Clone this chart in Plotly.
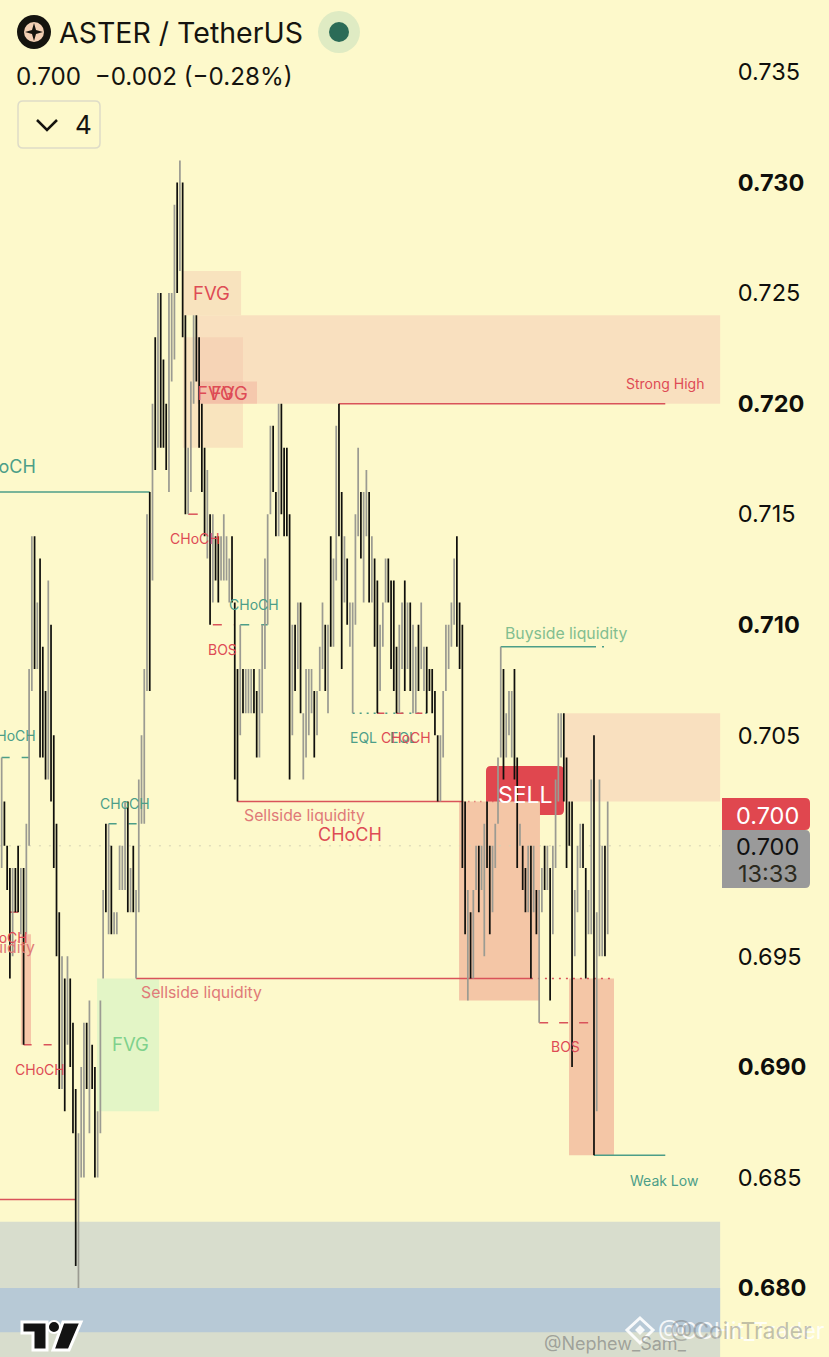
import plotly.graph_objects as go

# ---- data: candles, prices in 1/1000 USDT, x = bar number ----
bar_top = [704,702,700,699,699,699,700,699,699,701,708,714,714,711,713,709,707,712,710,705,
 701,697,695,694,695,694,692,689,687,690,692,692,693,691,690,688,693,698,701,701,
 700,697,697,700,700,702,702,699,700,698,703,705,708,715,716,720,723,725,725,722,
 720,725,725,729,730,731,730,724,718,721,724,724,723,720,718,717,715,715,714,714,
 714,715,714,713,714,711,708,710,708,708,708,708,708,707,708,710,713,715,719,719,
 716,720,720,718,718,715,710,710,711,711,706,708,708,708,707,707,709,711,710,710,
 714,713,719,720,716,714,713,711,711,715,718,716,716,717,716,714,713,712,710,711,
 713,713,712,712,709,710,711,712,711,711,710,709,710,711,709,709,708,708,707,705,
 705,707,710,710,711,713,714,711,710,702,698,697,698,700,700,700,701,702,700,700,
 701,704,709,708,706,707,707,708,704,701,700,699,700,700,700,698,698,699,700,700,
 699,700,703,706,706,706,704,702,702,698,700,701,701,699,698,703,705,697,703,700,700,702]
bar_bottom = [699,700,698,694,695,697,697,696,691,696,700,707,708,708,704,704,703,703,702,699,
 695,689,689,688,691,690,687,681,680,685,685,689,687,689,685,685,687,694,697,696,
 696,696,696,698,698,698,697,697,697,694,697,701,701,707,707,712,717,718,718,718,
 717,716,721,722,725,726,723,715,715,716,720,721,718,716,714,713,710,711,712,711,
 712,712,712,711,711,703,702,705,706,706,706,706,706,704,704,706,708,710,715,716,
 714,714,715,714,714,703,705,707,708,706,703,704,705,706,704,705,707,708,707,706,
 709,709,712,714,708,711,710,709,706,710,714,713,711,714,711,711,709,706,707,709,
 711,711,708,707,706,706,708,707,708,707,706,706,707,708,707,706,707,706,705,702,
 702,704,707,708,709,710,709,708,699,696,693,694,694,698,697,698,695,699,696,697,
 699,701,704,703,704,705,704,703,699,700,698,697,697,694,697,696,692,697,698,698,
 693,696,699,702,704,702,699,700,690,695,697,699,699,694,696,696,686,688,695,695,695,696]
bar_tone = list("gkkkgkkgkg" "ggkgkkkgkk" "kkgkgkkkgg" "gkgkkgggkg" "kgggggkgkg"
                "ggggkgkgkk" "kgggkgkkgg" "gkkkkgkgkk" "ggggkkkgkg" "ggkkgggggk"
                "kgkkkkgkgk" "ggggkgggkg" "kggkkgkggg" "gkggkgkkgg" "gkkkkggkgk"
                "ggkggkkkkk" "ggggggkkkk" "gkggkggkkg" "gggkgggkkg" "kkgkgkggkg"
                "kggggkkkkg" "ggkkggkggg" "kg")

zone_x0 = [66.1, 71.2, 66.1, 71.6, 7.0, 34.8, 166.8, 205.4, 206.9, -1, -1]
zone_x1 = [87.3, 262, 88.0, 93.1, 10.7, 57.4, 196.3, 262, 223.3, 262, 262]
zone_top = [726, 724, 723, 721, 696, 694, 702, 706, 694, 683, 680]
zone_bottom = [724, 720, 718, 720, 691, 688, 693, 702, 686, 676, 678]
zone_color = ["rgba(240,196,170,.40)", "#F9E0BF", "rgba(240,190,165,.35)", "rgba(240,170,150,.45)",
              "#F6C6A8", "#E3F5C6", "#F4C6A6", "#F9E0BF", "#F4C6A6", "#D8DDCD", "#B7C9D6"]

RED, GREEN = "#D9535A", "#4C9E88"
# level lines: x0, x1, price, colour, dash
levels = [(-1, 54, 716, GREEN, None), (123, 242, 720, RED, None), (86, 168, 702, RED, None),
          (168, 181, 702, RED, "1px,5px"), (49, 193, 694, RED, None), (193, 223, 694, RED, "2px,5px"),
          (-1, 27, 684, RED, None), (182, 216, 709, GREEN, None), (216, 221, 709, GREEN, "2px,6px"),
          (216, 242, 686, GREEN, None),
          (128, 137, 706, GREEN, "2px,5px"), (137, 155, 706, GREEN, "2px,6px"), (137, 155, 706, RED, "7px,12px"),
          (0, 10, 704, GREEN, "8px,12px"), (39, 50, 701, GREEN, "8px,12px"), (87, 97, 710, GREEN, "9px,12px"),
          (77, 85, 710, RED, "9px,12px"), (68, 71.5, 715, RED, None), (196, 215, 692, RED, "9px,11px"),
          (8, 19, 691, RED, "8px,12px"), (3, 6, 697, RED, None)]
dotted_price = 700

tick_prices = [680,685,690,695,700,705,710,715,720,725,730,735]
tick_text = ["<b>0.680</b>","0.685","<b>0.690</b>","0.695","<b>0.700</b>","0.705",
             "<b>0.710</b>","0.715","<b>0.720</b>","0.725","<b>0.730</b>","0.735"]

W, H = 829, 1357
PLOT_W = 730
def px(x): return x / PLOT_W
def py(y): return 1 - y / H
def rpath(x0, y0, x1, y1, r=0, rl=0):
    return (f"M{px(x0+rl)},{py(y0)} L{px(x1-r)},{py(y0)} Q{px(x1)},{py(y0)} {px(x1)},{py(y0+r)} "
            f"L{px(x1)},{py(y1-r)} Q{px(x1)},{py(y1)} {px(x1-r)},{py(y1)} L{px(x0+rl)},{py(y1)} "
            f"Q{px(x0)},{py(y1)} {px(x0)},{py(y1-rl)} L{px(x0)},{py(y0+rl)} Q{px(x0)},{py(y0)} {px(x0+rl)},{py(y0)} Z")
def poly(points):
    return "M" + " L".join(f"{px(a)},{py(b)}" for a, b in points) + " Z"

shapes = []
for a, b, t, u, c in zip(zone_x0, zone_x1, zone_top, zone_bottom, zone_color):
    shapes.append(dict(type="rect", xref="x", yref="y", x0=a, x1=b, y0=u/1000, y1=t/1000,
                       fillcolor=c, line_width=0, layer="below"))
shapes.append(dict(type="line", xref="x", yref="y", x0=-1, x1=262, y0=dotted_price/1000, y1=dotted_price/1000,
                   line=dict(color="#D4D2B4", width=1, dash="2px,8px"), layer="below"))
for a, b, p, c, d in levels:
    line = dict(color=c, width=1.5)
    if d: line["dash"] = d
    shapes.append(dict(type="line", xref="x", yref="y", x0=a, x1=b, y0=p/1000, y1=p/1000, line=line, layer="below"))

def paper(path, fill, line=None, lw=0, layer="above"):
    return dict(type="path", xref="paper", yref="paper", path=path, fillcolor=fill,
                line=dict(color=line or fill, width=lw), layer=layer)

# sell badge (under the candles)
shapes.append(paper(rpath(486, 766, 564, 815, 5, 5), "#E0474F", layer="below"))
shapes.append(paper(poly([(511, 815), (540, 815), (525, 826)]), "#E0474F", layer="below"))
# price badges
shapes.append(paper(rpath(722, 798, 810, 830, 5), "#E0474F"))
shapes.append(paper(rpath(722, 830, 810, 888, 5), "#9A9A9A"))
# header widgets
shapes.append(dict(type="circle", xref="paper", yref="paper", x0=px(17), x1=px(51), y0=py(49), y1=py(15),
                   fillcolor="#15140F", line_width=0))
shapes.append(dict(type="circle", xref="paper", yref="paper", x0=px(24), x1=px(44), y0=py(42), y1=py(22),
                   fillcolor="#F3D0B4", line_width=0))
shapes.append(paper(poly([(34,23),(36,30),(43,32),(36,34),(34,41),(32,34),(25,32),(32,30)]), "#15140F"))
shapes.append(dict(type="circle", xref="paper", yref="paper", x0=px(318), x1=px(360), y0=py(53), y1=py(11),
                   fillcolor="#DFEBC3", line_width=0))
shapes.append(dict(type="circle", xref="paper", yref="paper", x0=px(329), x1=px(349), y0=py(42), y1=py(22),
                   fillcolor="#2B6B57", line_width=0))
shapes.append(paper(rpath(18, 101, 100, 148, 5, 5), "rgba(0,0,0,0)", "#DEDCC8", 1.5))
shapes.append(dict(type="path", xref="paper", yref="paper",
                   path=f"M{px(37)},{py(120)} L{px(47)},{py(130)} L{px(57)},{py(120)}",
                   line=dict(color="#15140F", width=2.5)))
# chart-maker logo
logo = [poly([(22,1322),(47,1322),(47,1350),(33,1350),(33,1333),(22,1333)]),
        poly([(63,1322),(81,1322),(69,1350),(53,1350)])]
for p_ in logo:
    shapes.append(paper(p_, "#131313", "#FFFFFF", 3))
shapes.append(dict(type="circle", xref="paper", yref="paper", x0=px(48), x1=px(60), y0=py(1333), y1=py(1321),
                   fillcolor="#131313", line=dict(color="#FFFFFF", width=2)))
shapes.append(paper(poly([(640,1318),(653,1330),(640,1343),(627,1330)]), "rgba(255,255,255,.0)", "rgba(255,255,255,.9)", 3))
shapes.append(paper(poly([(640,1325),(645,1330),(640,1335),(635,1330)]), "rgba(255,255,255,.9)"))

LRED, LSOFT, LGREEN = "#DE4B55", "#E07A78", "#4C9E88"
# text: string, x, y, size, colour, anchor
labels = [
 ("ASTER / TetherUS", 57, 32, 28.5, "#15140F", "left"),
 ("0.700  −0.002 (−0.28%)", 14, 76, 24.2, "#15140F", "left"),
 ("4", 83, 124, 26, "#15140F", "center"),
 ("FVG", 212, 293, 18.5, LRED, "center"), ("FVG", 215, 393, 18.5, LRED, "center"), ("FVG", 229, 393, 18.5, LRED, "center"),
 ("Strong High", 665, 383, 14, LRED, "center"), ("CHoCH", 38, 467, 18, LGREEN, "right"),
 ("CHoCH", 195, 538, 14, LRED, "center"), ("CHoCH", 254, 604, 14, LGREEN, "center"), ("BOS", 222, 649, 14, LRED, "center"),
 ("CHoCH", 38, 735, 14, LGREEN, "right"), ("CHoCH", 125, 803, 14, LGREEN, "center"),
 ("Buyside liquidity", 566, 633, 15.8, "#82BE90", "center"),
 ("EQL", 363, 737, 14, LGREEN, "center"), ("EQL", 404, 737, 14, LGREEN, "center"), ("CHoCH", 406, 737, 14, LRED, "center"),
 ("Sellside liquidity", 304, 815, 15.8, LSOFT, "center"), ("CHoCH", 350, 834, 18, LRED, "center"),
 ("CHoCH", 30, 937, 14, LRED, "right"), ("Sellside liquidity", 37, 947, 15.8, LSOFT, "right"),
 ("Sellside liquidity", 202, 992, 15.8, LSOFT, "center"),
 ("FVG", 130, 1044, 18.5, "#7FD18C", "center"), ("BOS", 565, 1046, 14, LRED, "center"),
 ("CHoCH", 40, 1069, 14, LRED, "center"), ("Weak Low", 664, 1180, 14, LGREEN, "center"),
 ("SELL", 525, 795, 23, "#FFFFFF", "center"),
 ("0.700", 768, 815, 23.5, "#FFFFFF", "center"), ("0.700", 768, 846, 23.5, "#111111", "center"),
 ("13:33", 768, 873, 23.5, "#2C2A20", "center"),
 ("@Nephew_Sam_", 542, 1343, 18, "rgba(110,110,110,.55)", "left"),
 ("@CCHit_Trader", 656, 1331, 23, "rgba(255,255,255,.85)", "left"),
 ("@CoinTrader", 668, 1331, 23, "rgba(120,120,120,.45)", "left"),
]
annotations = [dict(text=t, xref="paper", yref="paper", x=px(x), y=py(y), xanchor=a, yanchor="middle",
                    showarrow=False, font=dict(family="Inter", size=s, color=c))
               for t, x, y, s, c, a in labels]

bars = list(range(len(bar_top)))
opens = [(b if k == "k" else t) / 1000 for t, b, k in zip(bar_top, bar_bottom, bar_tone)]
closes = [(t if k == "k" else b) / 1000 for t, b, k in zip(bar_top, bar_bottom, bar_tone)]
fig = go.Figure(go.Candlestick(
    x=bars, open=opens, close=closes, high=[t/1000 for t in bar_top], low=[b/1000 for b in bar_bottom],
    increasing=dict(line=dict(color="#0F0F0C", width=0), fillcolor="#0F0F0C"),
    decreasing=dict(line=dict(color="#9B9B92", width=0), fillcolor="#9B9B92"),
    whiskerwidth=0, hoverinfo="skip", showlegend=False))

BG = "#FDF9CB"
fig.update_layout(
    width=W, height=H, margin=dict(l=0, r=W-PLOT_W, t=0, b=0), paper_bgcolor=BG, plot_bgcolor=BG,
    boxgap=0.1, showlegend=False, shapes=shapes, annotations=annotations,
    font=dict(family="Inter"),
    xaxis=dict(range=[-0.609, 265.6], showgrid=False, zeroline=False, showticklabels=False, ticks="",
               rangeslider=dict(visible=False), fixedrange=True),
    yaxis=dict(range=[0.676879, 0.738257], side="right", showgrid=False, zeroline=False, ticks="outside",
               ticklen=2, tickcolor="rgba(0,0,0,0)", tickvals=[p/1000 for p in tick_prices], ticktext=tick_text,
               tickfont=dict(family="Inter", size=23.5, color="#0F0F0C"), fixedrange=True))

fig.write_html("out.html", config=dict(displayModeBar=False),
               post_script="document.body.style.margin='0';document.body.style.background='#FDF9CB';document.body.style.overflow='hidden';")
